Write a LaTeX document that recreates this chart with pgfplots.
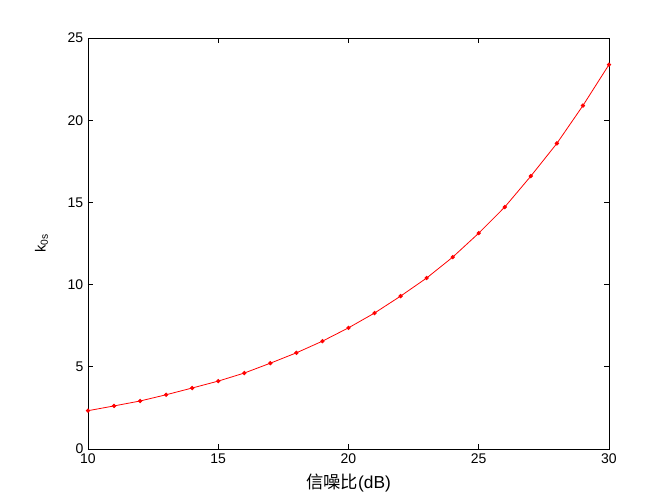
\documentclass[border=0pt]{standalone}
\usepackage{pgfplots}
\pgfplotsset{compat=1.18}
\usepackage{fontspec}
\setmainfont{Liberation Sans}
\newfontfamily\cjk{Noto Sans CJK SC}

% 1 px of the 672x504 reference = 0.75pt
\begin{document}
\begin{tikzpicture}
\path[use as bounding box] (-66pt,-41.25pt) rectangle (438pt,336.75pt);
\begin{axis}[
    at={(0,0)}, anchor=south west,
    scale only axis,
    width=390.75pt, height=308.25pt,
    xmin=10, xmax=30, ymin=0, ymax=25,
    xtick={10,15,...,30}, ytick={0,5,...,25},
    tick align=inside, major tick length=3.75pt,
    tick style={black, line width=0.5pt},
    axis line style={black, line width=0.5pt},
    every tick label/.append style={font=\fontsize{10.5}{12}\selectfont},
    /pgf/number format/assume math mode=true,
    xlabel={{\cjk 信噪比}(dB)},
    ylabel={k\textsubscript{0s}},
    xlabel style={font=\fontsize{13}{15}\selectfont, yshift=-1pt},
    ylabel style={font=\fontsize{11}{13}\selectfont, yshift=8pt},
]
\addplot[red, line width=0.6pt, mark=*, mark size=1.3pt, mark options={fill=red, draw=red}] coordinates {
    (10,2.33) (11,2.62) (12,2.92) (13,3.30) (14,3.71)
    (15,4.13) (16,4.62) (17,5.22) (18,5.85) (19,6.56)
    (20,7.37) (21,8.27) (22,9.30) (23,10.40) (24,11.67)
    (25,13.13) (26,14.72) (27,16.60) (28,18.59) (29,20.89)
    (30,23.38)
};
\end{axis}
\end{tikzpicture}
\end{document}
